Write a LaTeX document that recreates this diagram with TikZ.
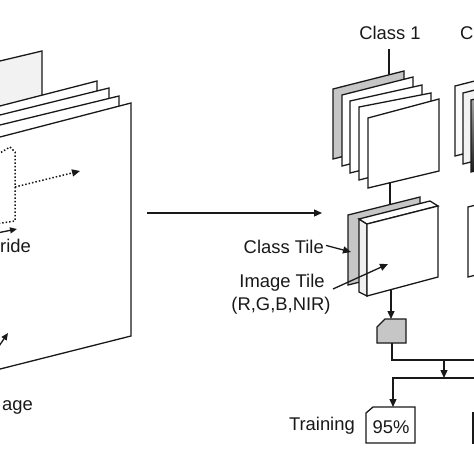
\documentclass[tikz,border=0pt]{standalone}
\usepackage{fontspec}
\setmainfont{Liberation Sans}
\usetikzlibrary{arrows.meta}
\begin{document}
\begin{tikzpicture}[x=1pt,y=-1pt,
  lbl/.style={font=\fontsize{18.4}{22}\selectfont, inner sep=0pt, text=black!90},
  outl/.style={line width=1.3pt, draw=black!90, line join=miter},
  sheet/.style={outl, fill=white},
  graysheet/.style={outl, fill=gray!45},
  ln/.style={line width=1.3pt, draw=black!90},
  arr/.style={ln, -{Triangle[length=8pt,width=7pt]}},
]
\useasboundingbox (0,0) rectangle (474,474);
\fill[white] (0,0) rectangle (474,474);
\begin{scope}
\clip (0,0) rectangle (474,474);

% ---- left image stack ----
\draw[outl, fill=gray!10] (-30,68.1) -- (42,51) -- (42,300) -- (-30,300) -- cycle;
\draw[sheet] (-30,113.7) -- (97,81) -- (97,320) -- (-30,320) -- cycle;
\draw[sheet] (-30,122.4) -- (109,88) -- (109,320) -- (-30,320) -- cycle;
\draw[sheet] (-30,132.3) -- (119,96) -- (119,320) -- (-30,320) -- cycle;
\draw[sheet] (-30,144.8) -- (131,103) -- (131,336) -- (-30,376.6) -- cycle;

% dotted window
\draw[ln, line width=1.5pt, dotted] (-5,156) -- (10,147) -- (15,152) -- (15,221) -- (-5,224);
\coordinate (winR) at (15,187);
\coordinate (winT) at (80,171);
\draw[arr, line width=1.5pt, dotted] (winR) -- (winT);
\coordinate (sa) at (-3,233);
\coordinate (sb) at (17,229);
\draw[arr, -{Triangle[length=7pt,width=6pt]}] (sa) -- (sb);
\coordinate (ia) at (-3,349);
\coordinate (ib) at (8,333);
\draw[arr, -{Triangle[length=7pt,width=6pt]}] (ia) -- (ib);
\end{scope}

\node[lbl, anchor=base west] (stride) at (0,252) {ride};
\node[lbl, anchor=base east] (image) at (33,410) {age};

% ---- main arrow ----
\coordinate (ma) at (147,213);
\coordinate (mb) at (322,213);
\draw[arr] (ma) -- (mb);

\begin{scope}
\clip (0,0) rectangle (474,474);
% ---- class 1 stack ----
\node[lbl, anchor=base] (c1) at (390,39) {Class 1};
\coordinate (c1bl) at (389,49);
\coordinate (c1top) at (389,76);
\draw[ln] (c1bl) -- (c1top);
\draw[graysheet] (333,89) -- (404,71) -- (404,141) -- (333,159) -- cycle;
\draw[sheet] (342,95) -- (413,77) -- (413,148) -- (342,166) -- cycle;
\draw[sheet] (350,101) -- (422,85) -- (422,155) -- (350,173) -- cycle;
\draw[sheet] (359,107) -- (431,93) -- (431,162) -- (359,180) -- cycle;
\draw[sheet] (368,118) -- (439,99) -- (439,171) -- (368,188) -- cycle;
\coordinate (c1bot) at (390,183);
\coordinate (ctTop) at (390,206);
\draw[ln] (c1bot) -- (ctTop);

% ---- class tile ----
\draw[graysheet] (348,215) -- (420,197) -- (420,267) -- (348,285) -- cycle;
\draw[outl, fill=gray!12] (359,219) -- (367,224) -- (367,296) -- (359,292) -- cycle;
\draw[sheet] (359,219) -- (430,201) -- (438,206) -- (367,224) -- cycle;
\draw[sheet] (367,224) -- (438,206) -- (438,277) -- (367,296) -- cycle;

\node[lbl, anchor=base east] (classtile) at (324,253) {Class Tile};
\coordinate (ctp) at (351,252);
\draw[arr] ([xshift=2pt,yshift=1pt]classtile.east) -- (ctp);
\node[lbl, anchor=base] (imgtile) at (282,287) {Image Tile};
\node[lbl, anchor=base] (rgbnir) at (281,310) {(R,G,B,NIR)};
\coordinate (itp) at (388,264);
\coordinate (its) at (333,289);
\draw[arr] (its) -- (itp);

% ---- processing ----
\coordinate (plB) at (391,290);
\coordinate (bxT) at (391,319);
\draw[arr] (plB) -- (bxT);
\draw[outl, fill=gray!45] (377,343) -- (377,327) -- (385,319) -- (406,319) -- (406,343) -- cycle;
\coordinate (bxB) at (392,343);
\coordinate (r1) at (480,360);
\draw[ln] (bxB) |- (r1);
\coordinate (d1a) at (444,360);
\coordinate (d1b) at (444,378);
\draw[arr] (d1a) -- (d1b);
\coordinate (r2) at (480,378);
\coordinate (trT) at (393,407);
\draw[arr] (r2) -| (trT);

% ---- training ----
\draw[sheet] (366,443) -- (366,413) -- (373,407) -- (415,407) -- (415,443) -- cycle;
\node[lbl, anchor=base] (pct) at (391,433) {95\%};
\node[lbl, anchor=base east] (training) at (355,430) {Training};
\draw[outl, line width=1.8pt] (473,413) rectangle (500,443);

% ---- class 2 stack (partly visible) ----
\draw[outl, fill=gray!4] (455,86) -- (526,68) -- (526,138) -- (455,156) -- cycle;
\draw[outl, fill=gray!10] (463,93) -- (534,75) -- (534,146) -- (463,164) -- cycle;
\draw[outl, top color=gray!45, bottom color=black!90] (471,100) -- (542,82) -- (542,154) -- (471,172) -- cycle;
\draw[sheet] (468,207) -- (539,189) -- (539,259) -- (468,277) -- cycle;
\end{scope}
\node[lbl, anchor=base west] (c2) at (460,39) {C};
\end{tikzpicture}
\end{document}
